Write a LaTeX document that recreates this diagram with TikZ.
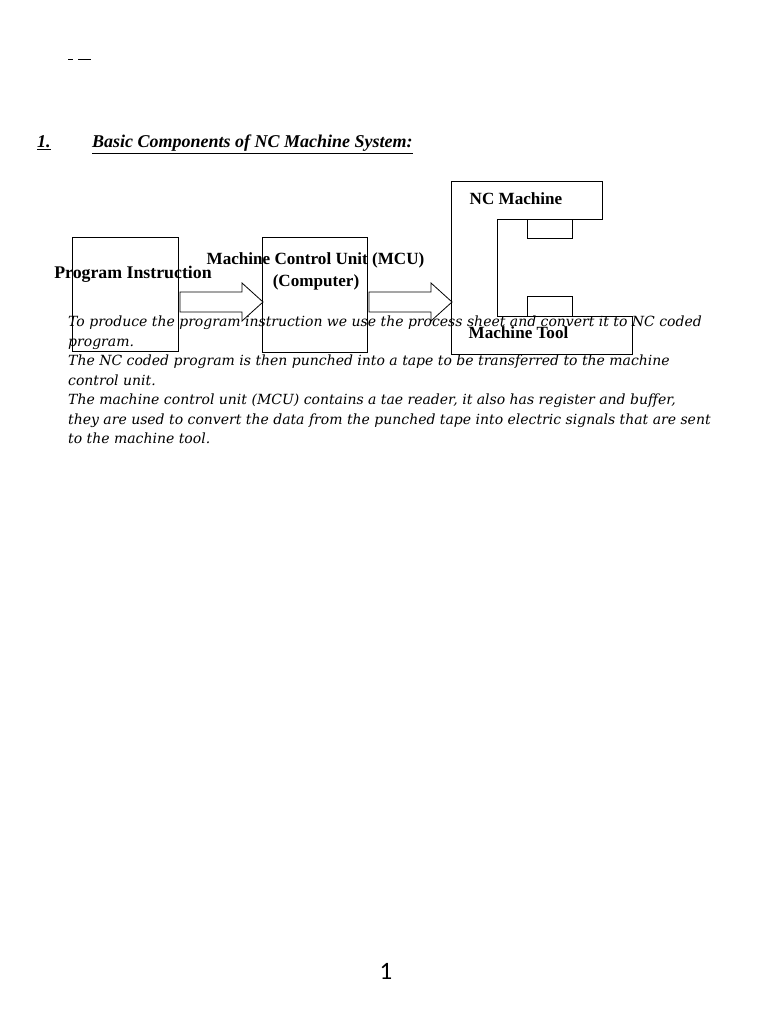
\documentclass[tikz,border=0pt]{standalone}
\usepackage{fontspec}
\setmainfont{Liberation Serif}
\newfontfamily\bodyfont{DejaVu Serif}
\newfontfamily\pagefont{Carlito}
\begin{document}
\begin{tikzpicture}[x=1pt,y=-1pt,
  box/.style={draw,line width=0.8pt},
  lbl/.style={font=\fontsize{17.1}{18}\selectfont\bfseries,inner sep=0pt,anchor=base},
  head/.style={font=\fontsize{18}{20}\selectfont\bfseries\itshape,inner sep=0pt,anchor=base west},
  bodyline/.style={font=\bodyfont\itshape\fontsize{14}{16}\selectfont,inner sep=0pt,anchor=base west},
  fatarrow/.style={draw,line width=0.8pt,fill=white}]
\useasboundingbox[fill=white] (0,0) rectangle (768,1024);
% top dashes
\draw[line width=0.8pt] (68,59) -- (73,59);
\draw[line width=0.8pt] (78,59) -- (91,59);
% heading
\node[head] (hnum) at (37,148) {\underline{1.}};
\node[head] (htitle) at (92,148) {\underline{Basic Components of NC Machine System:}};
% boxes
\draw[box] (72,237) rectangle (178,351);
\draw[box] (262,237) rectangle (367,352);
% arrows
\draw[fatarrow] (180,292) -- (242,292) -- (242,283) -- (263,302) -- (242,321) -- (242,312) -- (180,312) -- cycle;
\draw[fatarrow] (369,292) -- (431,292) -- (431,283) -- (452,302) -- (431,321) -- (431,312) -- (369,312) -- cycle;
% NC machine
\draw[box] (451,181) -- (602,181) -- (602,219) -- (497,219) -- (497,316) -- (632,316) -- (632,354) -- (451,354) -- cycle;
\draw[box] (527,219) rectangle (572,238);
\draw[box] (527,316) -- (527,296) -- (572,296) -- (572,316);
% labels
\node[lbl,font=\fontsize{17.8}{18}\selectfont\bfseries] (pi) at (133,278) {Program Instruction};
\node[lbl] (mcu) at (315.5,264) {Machine Control Unit (MCU)};
\node[lbl] (comp) at (316,286) {(Computer)};
\node[lbl] (ncm) at (516,205) {NC Machine};
\node[lbl] (mt) at (518.5,338) {Machine Tool};
% body text
\node[bodyline] (l1) at (68,326) {To produce the program instruction we use the process sheet and convert it to NC coded};
\node[bodyline] (l2) at (68,346) {program.};
\node[bodyline] (l3) at (68,365) {The NC coded program is then punched into a tape to be transferred to the machine};
\node[bodyline] (l4) at (68,385) {control unit.};
\node[bodyline] (l5) at (68,404) {The machine control unit (MCU) contains a tae reader, it also has register and buffer,};
\node[bodyline] (l6) at (68,424) {they are used to convert the data from the punched tape into electric signals that are sent};
\node[bodyline] (l7) at (68,443) {to the machine tool.};
% page number
\node[font=\pagefont\fontsize{25}{28}\selectfont,inner sep=0pt,anchor=base] (pg) at (386,979) {1};
\end{tikzpicture}
\end{document}
